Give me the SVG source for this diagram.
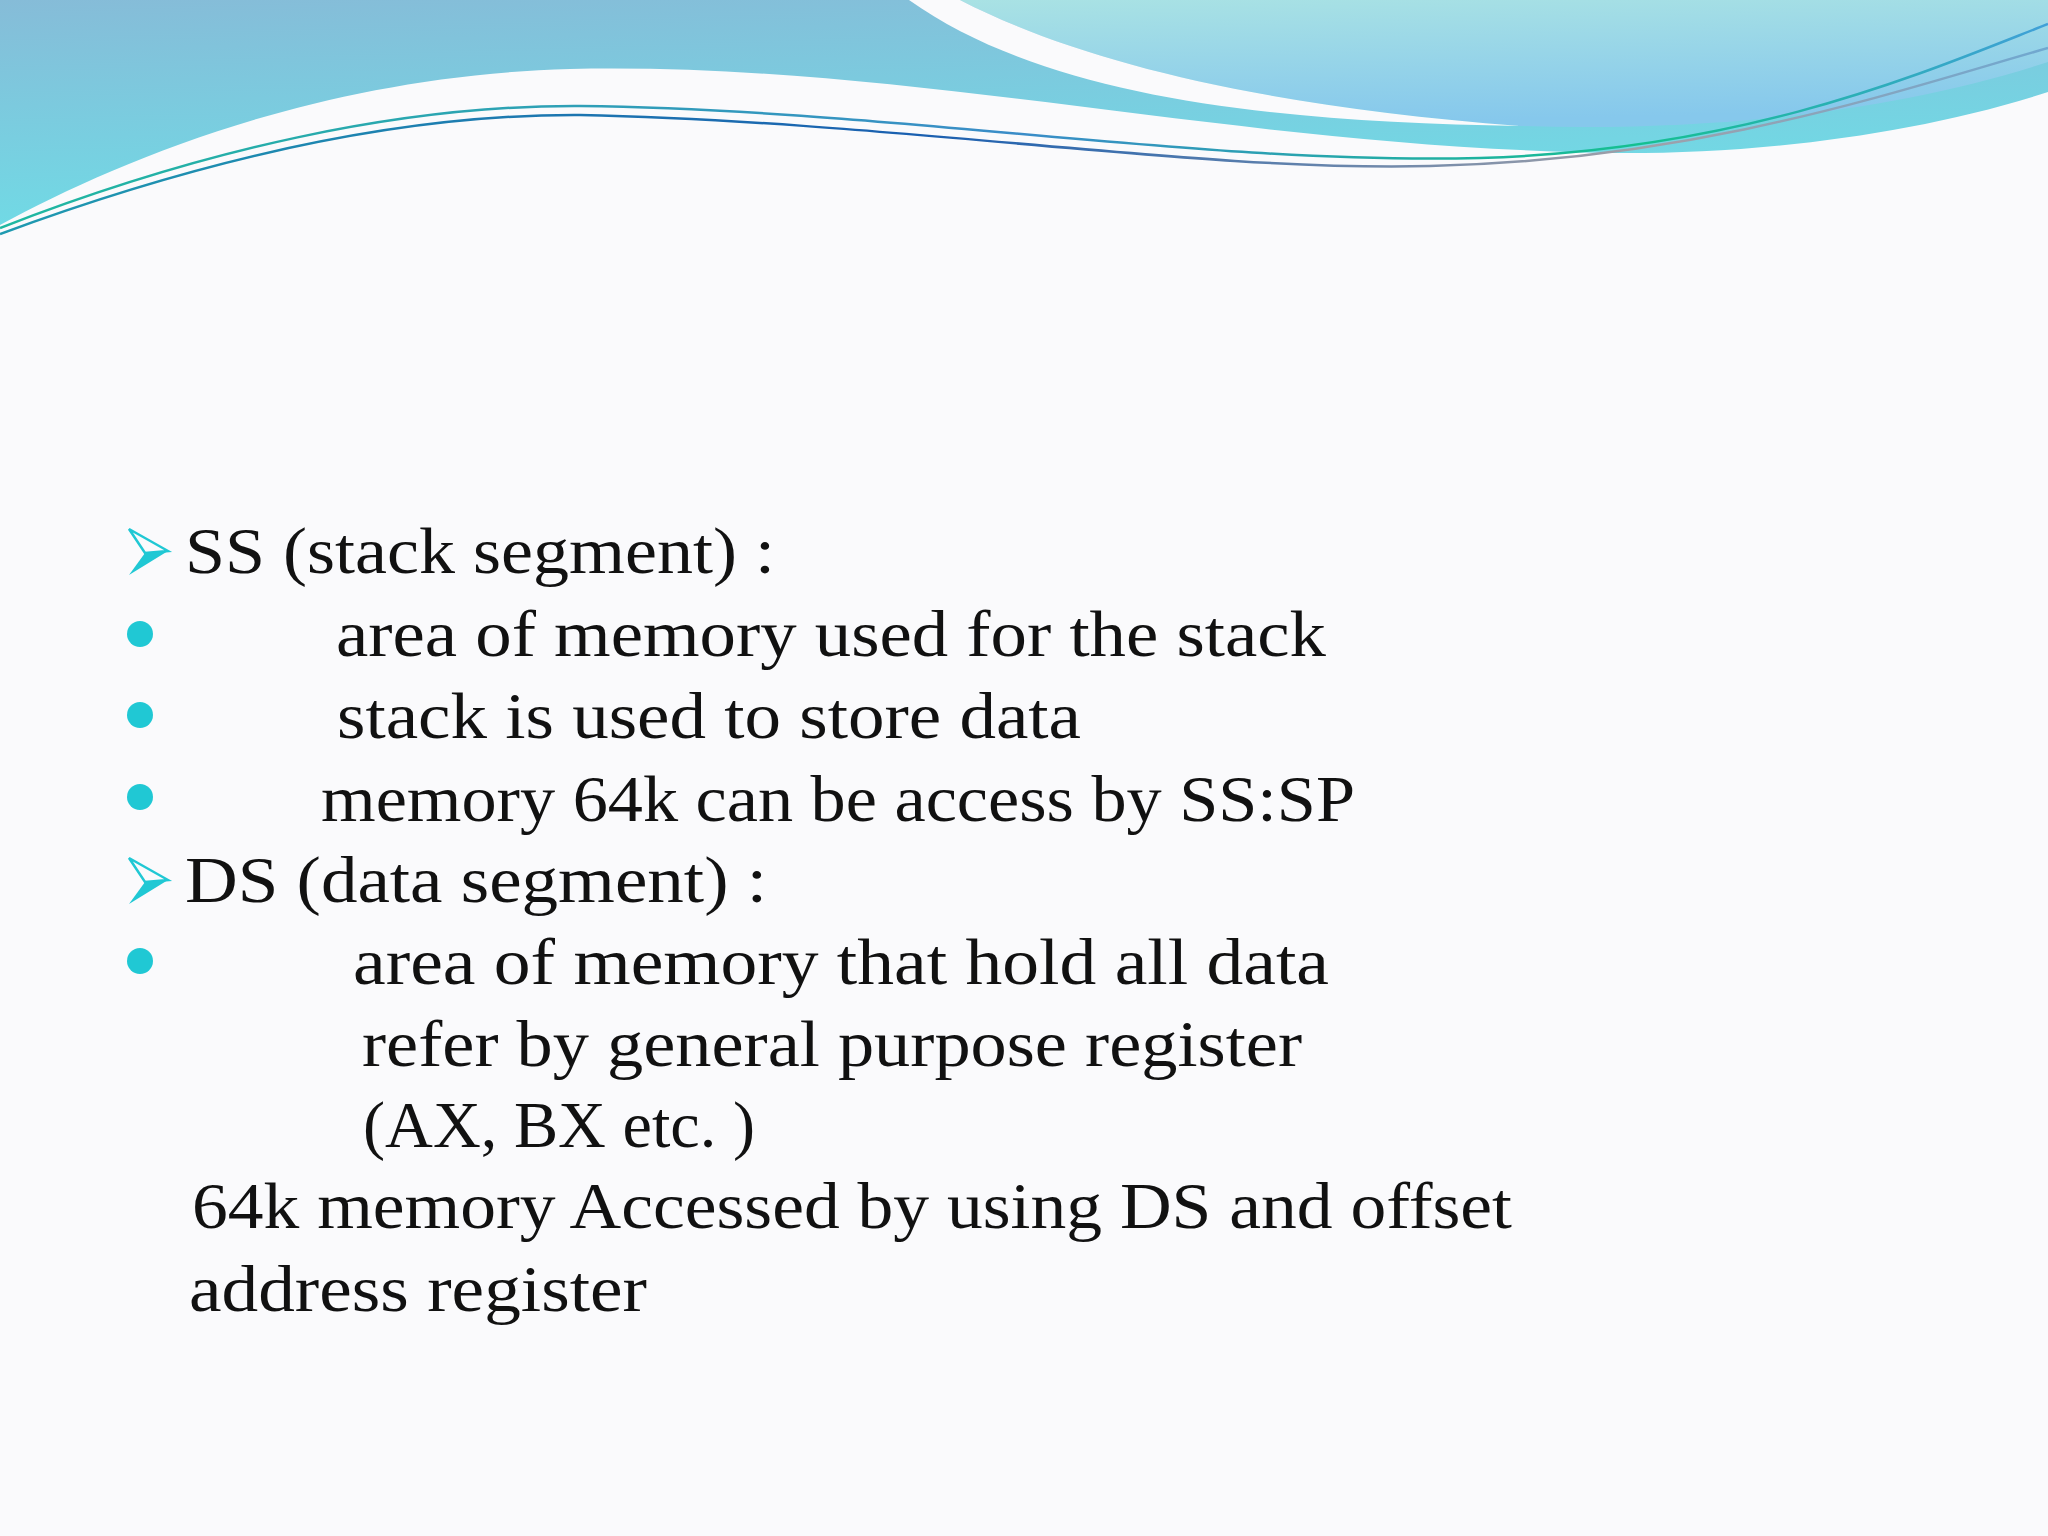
<svg xmlns="http://www.w3.org/2000/svg" width="2048" height="1536" viewBox="0 0 2048 1536">
<defs>
<linearGradient id="blue" x1="0" y1="0" x2="0.3" y2="1"><stop offset="0" stop-color="#86bcd8"/><stop offset="1" stop-color="#6fdce6"/></linearGradient>
<linearGradient id="cyan" x1="0" y1="0" x2="0.2" y2="1"><stop offset="0" stop-color="#a9e2e4"/><stop offset="1" stop-color="#86c8ec"/></linearGradient>
<linearGradient id="l1" x1="0" y1="0" x2="1" y2="0"><stop offset="0" stop-color="#1fb8a0"/><stop offset="0.5" stop-color="#3a8cc8"/><stop offset="0.8" stop-color="#14c090"/><stop offset="1" stop-color="#40a0d8"/></linearGradient>
<linearGradient id="l2" x1="0" y1="0" x2="1" y2="0"><stop offset="0" stop-color="#1f9ab0"/><stop offset="0.45" stop-color="#1a5fb0"/><stop offset="0.8" stop-color="#a0a0a8"/><stop offset="1" stop-color="#70a8d0"/></linearGradient>
<style>
.t{font-family:"Liberation Serif","DejaVu Serif",serif;font-size:66px;fill:#111}
.b{fill:#20c8d4}
</style>
</defs>
<rect width="2048" height="1536" fill="#fafafc"/>
<path d="M0,0 H2048 V92 C1900,140 1720,158 1568,152 C1200,140 900,62 570,69 C320,76 120,160 0,225 Z" fill="url(#blue)"/>
<path d="M960,0 H2048 V62 C1900,110 1720,132 1520,126 C1260,106 1080,62 960,0 Z" fill="url(#cyan)"/>
<path d="M909,0 H960 C1080,62 1260,106 1520,126 C1280,122 1050,100 909,0 Z" fill="#fafafc"/>
<path d="M0,228 C200,150 400,105 580,106 C900,110 1200,165 1480,158 C1750,150 1930,70 2048,24" fill="none" stroke="url(#l1)" stroke-width="2.5"/>
<path d="M0,234 C200,160 400,114 580,115 C900,122 1200,172 1430,166 C1700,160 1900,90 2048,48" fill="none" stroke="url(#l2)" stroke-width="2.5"/>
<g id="markers">
<path d="M129,529 L168,551 L145,553 Z" fill="none" stroke="#20c8d4" stroke-width="2.5"/>
<path d="M129,575 L168,551 L145,553 Z" class="b"/>
<path d="M129,858 L168,880 L145,882 Z" fill="none" stroke="#20c8d4" stroke-width="2.5"/>
<path d="M129,904 L168,880 L145,882 Z" class="b"/>
<circle cx="140" cy="634" r="13" class="b"/>
<circle cx="140" cy="715" r="13" class="b"/>
<circle cx="140" cy="797" r="13" class="b"/>
<circle cx="140" cy="961" r="13" class="b"/>
</g>
<g id="text">
<text class="t" x="185" y="573" textLength="590" lengthAdjust="spacingAndGlyphs">SS (stack segment) :</text>
<text class="t" x="336" y="656" textLength="990" lengthAdjust="spacingAndGlyphs">area of memory used for the stack</text>
<text class="t" x="337" y="738" textLength="744" lengthAdjust="spacingAndGlyphs">stack is used to store data</text>
<text class="t" x="321" y="821" textLength="1034" lengthAdjust="spacingAndGlyphs">memory 64k can be access by SS:SP</text>
<text class="t" x="185" y="902" textLength="582" lengthAdjust="spacingAndGlyphs">DS (data segment) :</text>
<text class="t" x="353" y="984" textLength="976" lengthAdjust="spacingAndGlyphs">area of memory that hold all data</text>
<text class="t" x="362" y="1066" textLength="940" lengthAdjust="spacingAndGlyphs">refer by general purpose register</text>
<text class="t" x="363" y="1147" textLength="392" lengthAdjust="spacingAndGlyphs">(AX, BX etc. )</text>
<text class="t" x="192" y="1228" textLength="1320" lengthAdjust="spacingAndGlyphs">64k memory Accessed by using DS and offset</text>
<text class="t" x="189" y="1311" textLength="458" lengthAdjust="spacingAndGlyphs">address register</text>
</g>
</svg>
